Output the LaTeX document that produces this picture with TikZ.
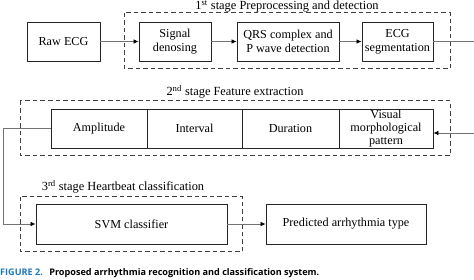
\documentclass[tikz,border=0pt]{standalone}
\usepackage{fontspec}
\setmainfont{Liberation Serif}
\newfontfamily\capfont{Open Sans}
\usetikzlibrary{arrows.meta}
\definecolor{capblue}{RGB}{30,120,190}
\tikzset{
  box/.style={draw=black!85, line width=0.8pt, inner sep=0pt, align=center,
    font=\fontsize{12.2}{14}\selectfont},
  stagebox/.style={draw=black!75, line width=1pt, dash pattern=on 4.5pt off 3pt},
  conn/.style={draw=black!55, line width=0.7pt},
  arr/.style={conn, -{Latex[length=5pt,width=4.5pt,color=black]}},
  stagetitle/.style={font=\fontsize{12.4}{14}\selectfont, inner sep=0pt},
}
\begin{document}
\begin{tikzpicture}[x=1pt,y=-1pt]
\useasboundingbox (0,0) rectangle (474,280);
\clip (0,0) rectangle (474,280);
% stage frames
\draw[stagebox] (124,13) rectangle (450,69);
\draw[stagebox] (20,101) rectangle (450,156);
\draw[stagebox] (20,197) rectangle (242,252);
% titles
\node[stagetitle] (t1) at (287,6.6) {1\textsuperscript{st} stage Preprocessing and detection};
\node[stagetitle] (t2) at (235,92) {2\textsuperscript{nd} stage Feature extraction};
\node[stagetitle] (t3) at (123,187) {3\textsuperscript{rd} stage Heartbeat classification};
% stage 1
\node[box, minimum width=73pt, minimum height=39pt] (raw) at (63.5,41.5) {Raw ECG};
\node[box, minimum width=72pt, minimum height=39pt] (sig) at (175,41.5) {Signal\\denosing};
\node[box, minimum width=102pt, minimum height=39pt] (qrs) at (288,41.5) {QRS complex and\\P wave detection};
\node[box, minimum width=71pt, minimum height=39pt] (seg) at (397.5,41.5) {ECG\\segmentation};
% stage 2
\node[box, minimum width=96pt, minimum height=39pt] (amp) at (99,128.5) {Amplitude};
\node[box, minimum width=95pt, minimum height=39pt] (int) at (194.5,128.5) {Interval};
\node[box, minimum width=97pt, minimum height=39pt] (dur) at (290.5,128.5) {Duration};
\node[box, minimum width=94pt, minimum height=39pt, font=\fontsize{12.2}{13}\selectfont] (vis) at (386,128.5) {Visual\\morphological\\pattern};
% stage 3
\node[box, minimum width=191pt, minimum height=40pt] (svm) at (131.5,224) {SVM classifier};
\node[box, minimum width=160pt, minimum height=40pt] (pred) at (346,224) {Predicted arrhythmia type};
% connectors
\coordinate (rc1) at (480,41.5);
\coordinate (rc2) at (480,133);
\coordinate (lc) at (3,128.5);
\draw[arr] (raw) -- (sig);
\draw[arr] (sig) -- (qrs);
\draw[arr] (qrs) -- (seg);
\draw[conn] (seg.east) -- (rc1) -- (rc2);
\draw[arr] (rc2) -- (vis.east |- rc2);
\draw[arr] (amp.west) -- (lc) |- (svm.west);
\draw[arr] (svm) -- (pred);
% caption
\node[anchor=west, inner sep=0pt, font=\capfont\bfseries\fontsize{9.1}{10}\selectfont] (cap) at (0,273.5)
  {\textcolor{capblue}{FIGURE 2.}\hspace{0.7em}Proposed arrhythmia recognition and classification system.};
\end{tikzpicture}
\end{document}
